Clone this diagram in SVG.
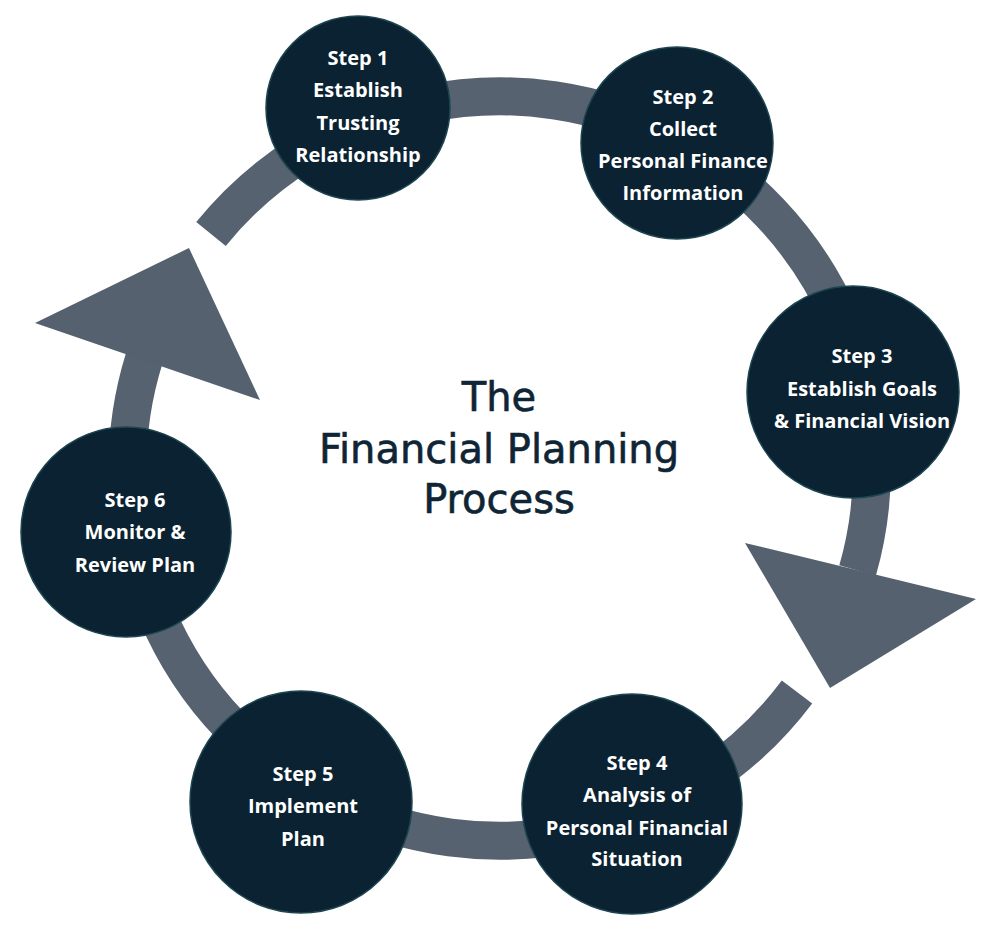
<svg xmlns="http://www.w3.org/2000/svg" width="999" height="942" viewBox="0 0 999 942">
<defs>
<style>
.ring{fill:none;stroke:#56626f;stroke-width:38}
.arr{fill:#55616e}
.c{fill:#0a2231;stroke:#1e4650;stroke-width:1.5}
.t{fill:#fff;font-family:"Open Sans","DejaVu Sans",sans-serif;font-weight:bold;font-size:20px;text-anchor:middle}
.h{fill:#0f2535;font-family:"DejaVu Sans",sans-serif;font-size:40px;text-anchor:middle;stroke:#0f2535;stroke-width:0.6}
</style>
</defs>
<rect width="999" height="942" fill="#fff"/>
<g id="connectors">
<path class="ring" d="M211,234 A372,372 0 0 1 857.6,570.6"/>
<path class="ring" d="M797,692 A372,372 0 0 1 144,359"/>
<polygon class="arr" points="189,248 35,323 260,400"/>
<polygon class="arr" points="745,543 976,599 830,688"/>
</g>
<g id="title">
<text class="h" x="499" y="411">The</text>
<text class="h" x="499" y="463">Financial Planning</text>
<text class="h" x="499" y="513">Process</text>
</g>
<g id="step1"><circle class="c" cx="358" cy="108" r="92"/>
<text class="t" x="358" y="65">Step 1</text><text class="t" x="358" y="97">Establish</text><text class="t" x="358" y="130">Trusting</text><text class="t" x="358" y="162">Relationship</text></g>
<g id="step2"><circle class="c" cx="677" cy="143" r="96"/>
<text class="t" x="683" y="104">Step 2</text><text class="t" x="683" y="136">Collect</text><text class="t" x="683" y="168">Personal Finance</text><text class="t" x="683" y="200">Information</text></g>
<g id="step3"><circle class="c" cx="853" cy="392" r="106"/>
<text class="t" x="862" y="363">Step 3</text><text class="t" x="862" y="396">Establish Goals</text><text class="t" x="862" y="428">&amp; Financial Vision</text></g>
<g id="step4"><circle class="c" cx="632" cy="804" r="110"/>
<text class="t" x="637" y="770">Step 4</text><text class="t" x="637" y="802">Analysis of</text><text class="t" x="637" y="835">Personal Financial</text><text class="t" x="637" y="866">Situation</text></g>
<g id="step5"><circle class="c" cx="301" cy="802" r="111"/>
<text class="t" x="303" y="781">Step 5</text><text class="t" x="303" y="813">Implement</text><text class="t" x="303" y="846">Plan</text></g>
<g id="step6"><circle class="c" cx="126" cy="532" r="105"/>
<text class="t" x="135" y="507">Step 6</text><text class="t" x="135" y="539">Monitor &amp;</text><text class="t" x="135" y="572">Review Plan</text></g>
</svg>
